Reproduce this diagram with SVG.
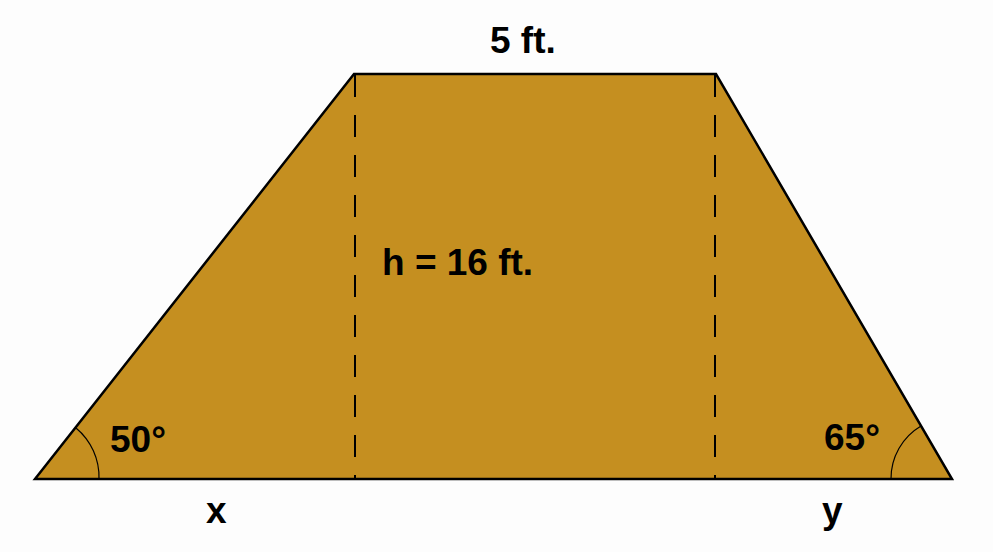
<svg xmlns="http://www.w3.org/2000/svg" width="993" height="552" viewBox="0 0 993 552">
<style>
.t{font-family:"Liberation Sans",Arial,sans-serif;font-weight:bold;font-size:37px;fill:#000}
.dash{stroke:#000;stroke-width:2;stroke-dasharray:22 18;fill:none}
.arc{stroke:#000;stroke-width:1.2;fill:none}
</style>
<rect width="993" height="552" fill="#fdfdfd"/>
<g id="trapezoid">
<polygon points="35,479 354,74 716,74 952,479" fill="#c58f20" stroke="#000" stroke-width="2.5" stroke-linejoin="miter"/>
</g>
<g id="connectors">
<line class="dash" x1="355" y1="75" x2="355" y2="479"/>
<line class="dash" x1="715" y1="75" x2="715" y2="479"/>
<path class="arc" d="M 99 479 A 64 64 0 0 0 76 428"/>
<path class="arc" d="M 891 479 A 61 61 0 0 1 921 426"/>
</g>
<g id="labels">
<text class="t" x="490" y="53">5 ft.</text>
<text class="t" x="382" y="275">h = 16 ft.</text>
<text class="t" x="110" y="452">50°</text>
<text class="t" x="824" y="450">65°</text>
<text class="t" x="206" y="523">x</text>
<text class="t" x="822" y="523">y</text>
</g>
</svg>
